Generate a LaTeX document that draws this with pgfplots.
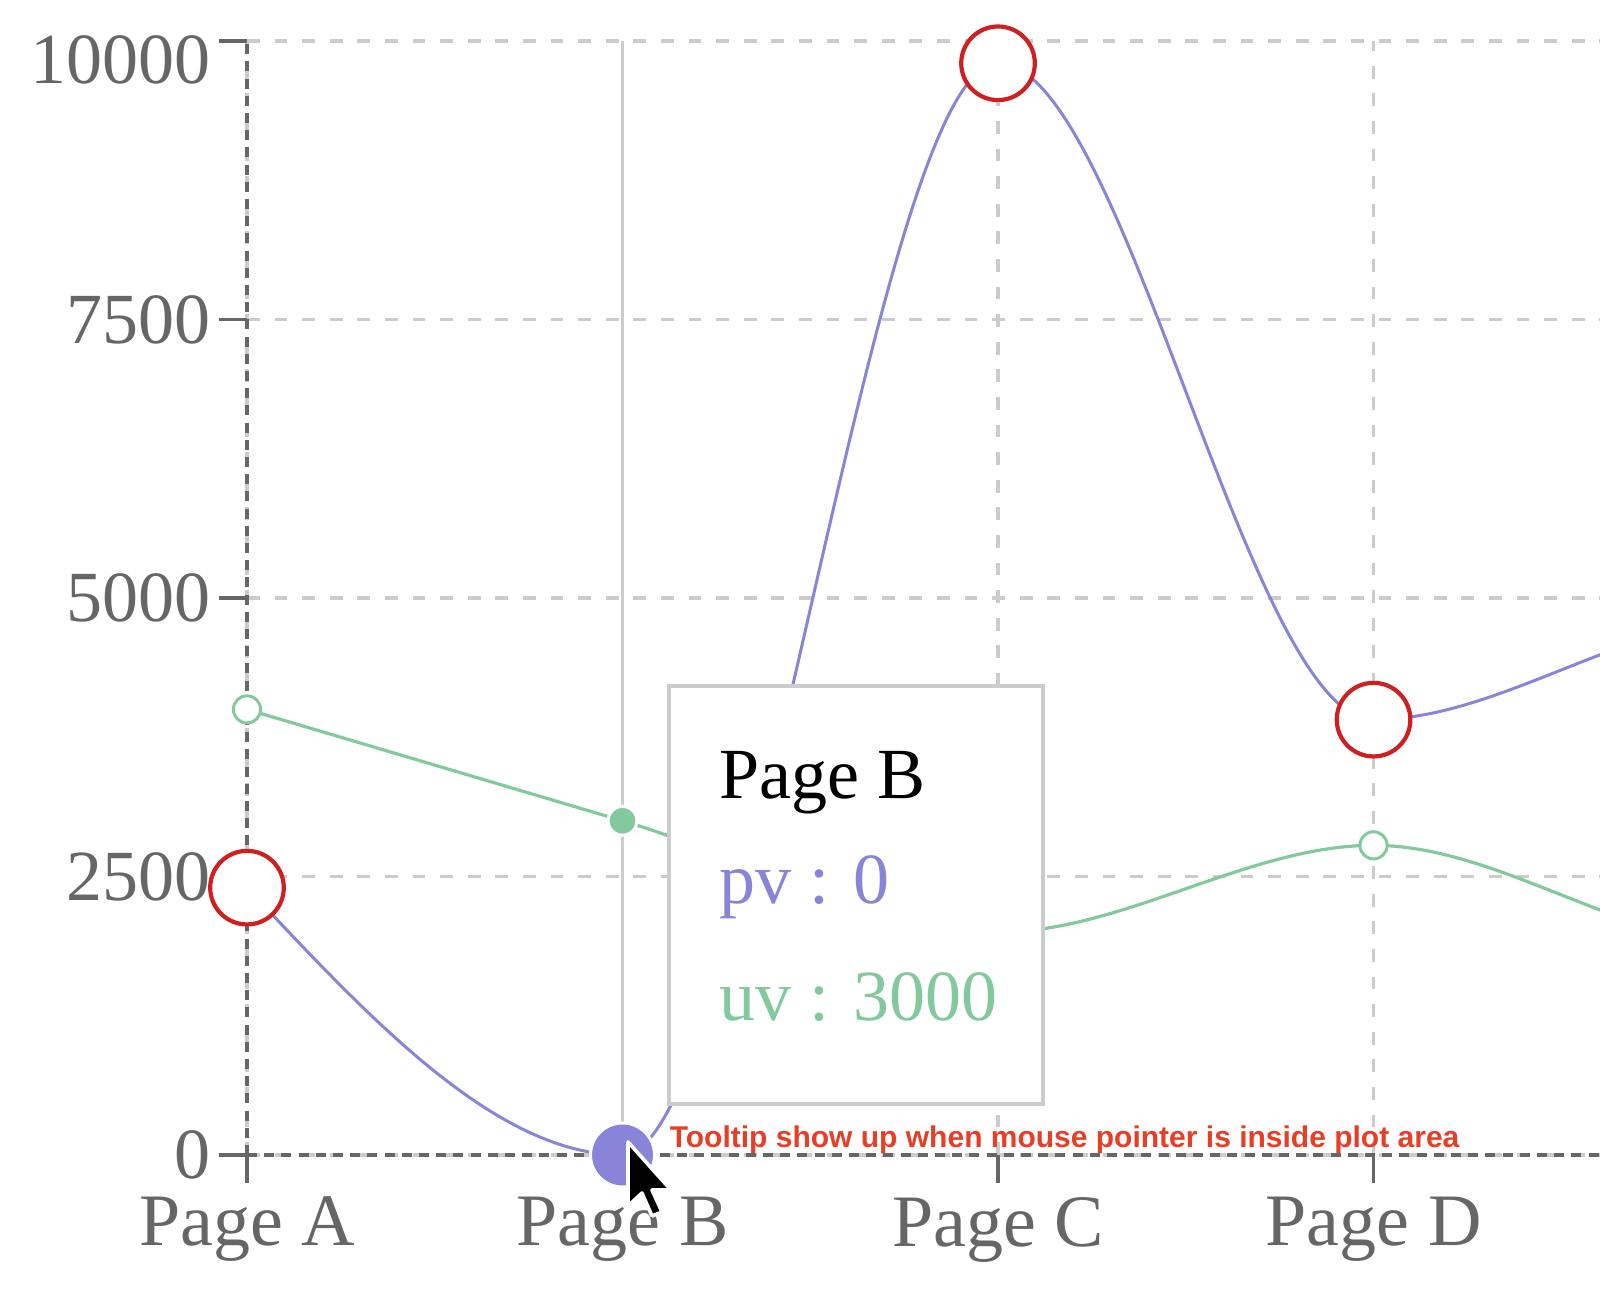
\documentclass[border=0pt]{standalone}
\usepackage{pgfplots}
\pgfplotsset{compat=1.18}
\usepackage{pgfplotstable}
\usepackage{fontspec}
\setmainfont{Liberation Serif}
\newfontfamily\annfont{Liberation Sans}
\definecolor{pvc}{HTML}{8884D8}
\definecolor{uvc}{HTML}{82CA9D}
\definecolor{redc}{RGB}{206,32,32}
\definecolor{gridc}{HTML}{CCCCCC}
\definecolor{axc}{HTML}{666666}
\definecolor{annred}{RGB}{233,62,38}

% monotone cubic plot handler (as d3 curveMonotoneX)
\makeatletter
\newcount\mono@n
\newcount\mono@i
\newcount\mono@j
\def\mono@get#1#2{\csname mono@#1@\number#2\endcsname}
\def\mono@set#1#2#3{\expandafter\xdef\csname mono@#1@\number#2\endcsname{#3}}
\def\pgfplothandlermonotone{%
  \def\pgf@plotstreamstart{\global\mono@n=0\relax}%
  \def\pgf@plotstreampoint##1{%
    \pgf@process{##1}%
    \global\advance\mono@n by 1\relax
    \mono@set{x}{\mono@n}{\pgf@sys@tonumber\pgf@x}%
    \mono@set{y}{\mono@n}{\pgf@sys@tonumber\pgf@y}%
  }%
  \def\pgf@plotstreamspecial##1{}%
  \def\pgf@plotstreamend{\mono@draw}%
}
\def\mono@draw{%
  \ifnum\mono@n>0
    \edef\mono@xa{\mono@get{x}{1}}\edef\mono@ya{\mono@get{y}{1}}%
    \pgf@plot@first@action{\pgfqpoint{\mono@xa pt}{\mono@ya pt}}%
  \fi
  \ifnum\mono@n>1
    \mono@i=1
    \loop\ifnum\mono@i<\mono@n
      \mono@j=\mono@i\advance\mono@j by 1
      \edef\mono@xa{\mono@get{x}{\mono@i}}\edef\mono@ya{\mono@get{y}{\mono@i}}%
      \edef\mono@xb{\mono@get{x}{\mono@j}}\edef\mono@yb{\mono@get{y}{\mono@j}}%
      \pgfmathsetmacro\mono@h{(\mono@xb)-(\mono@xa)}%
      \pgfmathsetmacro\mono@s{((\mono@yb)-(\mono@ya))/(\mono@h)}%
      \mono@set{h}{\mono@i}{\mono@h}%
      \mono@set{s}{\mono@i}{\mono@s}%
      \advance\mono@i by 1
    \repeat
    \ifnum\mono@n=2
      \mono@set{m}{1}{\mono@get{s}{1}}\mono@set{m}{2}{\mono@get{s}{1}}%
    \else
      \mono@i=2
      \loop\ifnum\mono@i<\mono@n
        \mono@j=\mono@i\advance\mono@j by -1
        \edef\mono@sa{\mono@get{s}{\mono@j}}\edef\mono@ha{\mono@get{h}{\mono@j}}%
        \edef\mono@sb{\mono@get{s}{\mono@i}}\edef\mono@hb{\mono@get{h}{\mono@i}}%
        \pgfmathsetmacro\mono@p{((\mono@sa)*(\mono@hb)+(\mono@sb)*(\mono@ha))/((\mono@ha)+(\mono@hb))}%
        \pgfmathsetmacro\mono@m{(ifthenelse(\mono@sa<0,-1,1)+ifthenelse(\mono@sb<0,-1,1))*min(abs(\mono@sa),abs(\mono@sb),0.5*abs(\mono@p))}%
        \mono@set{m}{\mono@i}{\mono@m}%
        \advance\mono@i by 1
      \repeat
      \edef\mono@sa{\mono@get{s}{1}}\edef\mono@ma{\mono@get{m}{2}}%
      \pgfmathsetmacro\mono@m{(3*(\mono@sa)-(\mono@ma))/2}%
      \mono@set{m}{1}{\mono@m}%
      \mono@j=\mono@n\advance\mono@j by -1
      \edef\mono@sa{\mono@get{s}{\mono@j}}\edef\mono@ma{\mono@get{m}{\mono@j}}%
      \pgfmathsetmacro\mono@m{(3*(\mono@sa)-(\mono@ma))/2}%
      \mono@set{m}{\mono@n}{\mono@m}%
    \fi
    \mono@i=1
    \loop\ifnum\mono@i<\mono@n
      \mono@j=\mono@i\advance\mono@j by 1
      \edef\mono@xa{\mono@get{x}{\mono@i}}\edef\mono@ya{\mono@get{y}{\mono@i}}%
      \edef\mono@xb{\mono@get{x}{\mono@j}}\edef\mono@yb{\mono@get{y}{\mono@j}}%
      \edef\mono@ma{\mono@get{m}{\mono@i}}\edef\mono@mb{\mono@get{m}{\mono@j}}%
      \edef\mono@h{\mono@get{h}{\mono@i}}%
      \pgfmathsetmacro\mono@dx{(\mono@h)/3}%
      \pgfmathsetmacro\mono@cax{(\mono@xa)+(\mono@dx)}%
      \pgfmathsetmacro\mono@cay{(\mono@ya)+(\mono@dx)*(\mono@ma)}%
      \pgfmathsetmacro\mono@cbx{(\mono@xb)-(\mono@dx)}%
      \pgfmathsetmacro\mono@cby{(\mono@yb)-(\mono@dx)*(\mono@mb)}%
      \pgfpathcurveto{\pgfqpoint{\mono@cax pt}{\mono@cay pt}}{\pgfqpoint{\mono@cbx pt}{\mono@cby pt}}{\pgfqpoint{\mono@xb pt}{\mono@yb pt}}%
      \advance\mono@i by 1
    \repeat
  \fi
}
\tikzset{monotone/.code={\let\tikz@plot@handler=\pgfplothandlermonotone}}
\makeatother

\pgfplotstableread{
x pv uv
0 2400 4000
1 0 3000
2 9800 2000
3 3908 2780
4 4800 1890
5 3800 2390
6 4300 3490
}\data

\begin{document}
\begin{tikzpicture}
\path[use as bounding box] (0,0) rectangle (400pt,325pt);
\begin{axis}[
  at={(61.75pt,36.25pt)}, anchor=south west,
  scale only axis, width=338.25pt, height=278.5pt,
  xmin=0, xmax=3.603, ymin=0, ymax=10000,
  axis lines=left,
  axis line style={-, axc, line width=0.8pt, dash pattern=on 2.5pt off 1.8pt},
  xtick={0,1,2,3}, xticklabels={Page A,Page B,Page C,Page D},
  ytick={0,2500,5000,7500},
  extra y ticks={10000},
  extra y tick style={grid=major, yticklabel style={yshift=-4.75pt}},
  scaled y ticks=false,
  /pgf/number format/assume math mode=true,
  /pgf/number format/1000 sep={},
  tick align=outside, major tick length=7pt,
  tick style={axc, line width=0.8pt, solid},
  grid=major,
  major grid style={gridc, line width=0.8pt, dash pattern=on 3.2pt off 3.7pt},
  yticklabel style={font=\fontsize{18pt}{20pt}\selectfont, text=axc, xshift=1.5pt},
  xticklabel style={font=\fontsize{18.5pt}{20pt}\selectfont, text=axc},
  clip=true,
]
\draw[gridc, line width=0.8pt] (axis cs:1,0) -- (axis cs:1,10000);
\addplot[pvc, line width=0.75pt, monotone] table[x=x,y=pv]{\data};
\addplot[uvc, line width=0.8pt, monotone] table[x=x,y=uv]{\data};
\addplot[only marks, mark=*, mark size=9.2pt, mark options={draw=redc, fill=white, line width=1.05pt}, skip coords between index={1}{2}, restrict x to domain=-1:3.5] table[x=x,y=pv]{\data};
\addplot[only marks, mark=*, mark size=3.4pt, mark options={draw=uvc, fill=white, line width=0.75pt}, skip coords between index={1}{2}, restrict x to domain=-1:3.5] table[x=x,y=uv]{\data};
\addplot[only marks, mark=*, mark size=8pt, mark options={draw=white, fill=pvc, line width=0.75pt}, restrict x to domain=0.9:1.1] table[x=x,y=pv]{\data};
\addplot[only marks, mark=*, mark size=3.6pt, mark options={draw=white, fill=uvc, line width=0.75pt}, restrict x to domain=0.9:1.1] table[x=x,y=uv]{\data};
\end{axis}
\begin{scope}[x=0.25pt, y=-0.25pt, shift={(0pt,325pt)}]
  \draw[gridc, line width=0.8pt, fill=white] (669,686) rectangle (1043,1104);
  \node[anchor=base west, inner sep=0, font=\fontsize{18pt}{20pt}\selectfont] at (719,798) {Page B};
  \node[anchor=base west, inner sep=0, font=\fontsize{18pt}{20pt}\selectfont, text=pvc] at (719,903) {pv : 0};
  \node[anchor=base west, inner sep=0, font=\fontsize{18pt}{20pt}\selectfont, text=uvc] at (719,1020) {uv : 3000};
  \node[anchor=base west, inner sep=0, text=annred, font=\annfont\bfseries\fontsize{7.5pt}{9pt}\selectfont] at (669,1147) {Tooltip show up when mouse pointer is inside plot area};
  \draw[white, line width=0.9pt, fill=black, line join=round] (628,1142) -- (628,1206) -- (642,1193) -- (652,1216) -- (662,1212) -- (652,1190) -- (671,1190) -- cycle;
\end{scope}
\end{tikzpicture}
\end{document}
